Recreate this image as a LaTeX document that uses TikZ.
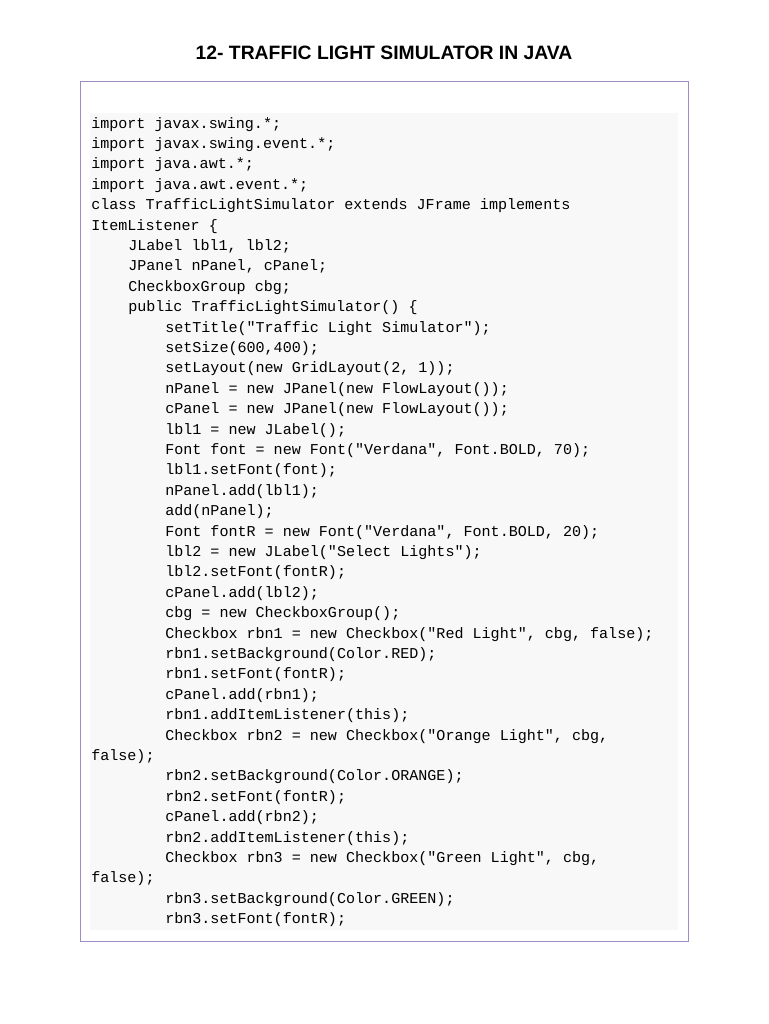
\documentclass[tikz,border=0pt]{standalone}
\usepackage{fontspec}
\setmainfont{Liberation Sans}
\newfontfamily\codefont{Liberation Mono}
\definecolor{framepurple}{HTML}{A08CC0}
\definecolor{codegray}{HTML}{F8F8F8}
\tikzset{
  codeline/.style={anchor=base west, inner sep=0pt, font=\codefont\fontsize{11.3}{13}\selectfont},
  titletext/.style={font=\bfseries\fontsize{14.5}{17}\selectfont}
}
\begin{document}
\begin{tikzpicture}[x=0.75pt,y=-0.75pt]
\useasboundingbox (0,0) rectangle (768,1024);
\node[titletext] (title) at (384,53) {12- TRAFFIC LIGHT SIMULATOR IN JAVA};
% listing frame
\draw[framepurple, fill=white] (80,81) rectangle (688,941);
\fill[codegray] (90,113) rectangle (678,930);
% code lines
\node[codeline] (l1) at (91,128) {import javax.swing.*;};
\node[codeline] (l2) at (91,148.4) {import javax.swing.event.*;};
\node[codeline] (l3) at (91,168.8) {import java.awt.*;};
\node[codeline] (l4) at (91,189.2) {import java.awt.event.*;};
\node[codeline] (l5) at (91,209.6) {class TrafficLightSimulator extends JFrame implements};
\node[codeline] (l6) at (91,230) {ItemListener \{};
\node[codeline] (l7) at (128,250.4) {JLabel lbl1, lbl2;};
\node[codeline] (l8) at (128,270.8) {JPanel nPanel, cPanel;};
\node[codeline] (l9) at (128,291.2) {CheckboxGroup cbg;};
\node[codeline] (l10) at (128,311.6) {public TrafficLightSimulator() \{};
\node[codeline] (l11) at (165,332) {setTitle("Traffic Light Simulator");};
\node[codeline] (l12) at (165,352.4) {setSize(600,400);};
\node[codeline] (l13) at (165,372.8) {setLayout(new GridLayout(2, 1));};
\node[codeline] (l14) at (165,393.2) {nPanel = new JPanel(new FlowLayout());};
\node[codeline] (l15) at (165,413.6) {cPanel = new JPanel(new FlowLayout());};
\node[codeline] (l16) at (165,434) {lbl1 = new JLabel();};
\node[codeline] (l17) at (165,454.4) {Font font = new Font("Verdana", Font.BOLD, 70);};
\node[codeline] (l18) at (165,474.8) {lbl1.setFont(font);};
\node[codeline] (l19) at (165,495.2) {nPanel.add(lbl1);};
\node[codeline] (l20) at (165,515.6) {add(nPanel);};
\node[codeline] (l21) at (165,536) {Font fontR = new Font("Verdana", Font.BOLD, 20);};
\node[codeline] (l22) at (165,556.4) {lbl2 = new JLabel("Select Lights");};
\node[codeline] (l23) at (165,576.8) {lbl2.setFont(fontR);};
\node[codeline] (l24) at (165,597.2) {cPanel.add(lbl2);};
\node[codeline] (l25) at (165,617.6) {cbg = new CheckboxGroup();};
\node[codeline] (l26) at (165,638) {Checkbox rbn1 = new Checkbox("Red Light", cbg, false);};
\node[codeline] (l27) at (165,658.4) {rbn1.setBackground(Color.RED);};
\node[codeline] (l28) at (165,678.8) {rbn1.setFont(fontR);};
\node[codeline] (l29) at (165,699.2) {cPanel.add(rbn1);};
\node[codeline] (l30) at (165,719.6) {rbn1.addItemListener(this);};
\node[codeline] (l31) at (165,740) {Checkbox rbn2 = new Checkbox("Orange Light", cbg,};
\node[codeline] (l32) at (91,760.4) {false);};
\node[codeline] (l33) at (165,780.8) {rbn2.setBackground(Color.ORANGE);};
\node[codeline] (l34) at (165,801.2) {rbn2.setFont(fontR);};
\node[codeline] (l35) at (165,821.6) {cPanel.add(rbn2);};
\node[codeline] (l36) at (165,842) {rbn2.addItemListener(this);};
\node[codeline] (l37) at (165,862.4) {Checkbox rbn3 = new Checkbox("Green Light", cbg,};
\node[codeline] (l38) at (91,882.8) {false);};
\node[codeline] (l39) at (165,903.2) {rbn3.setBackground(Color.GREEN);};
\node[codeline] (l40) at (165,923.6) {rbn3.setFont(fontR);};
\end{tikzpicture}
\end{document}
